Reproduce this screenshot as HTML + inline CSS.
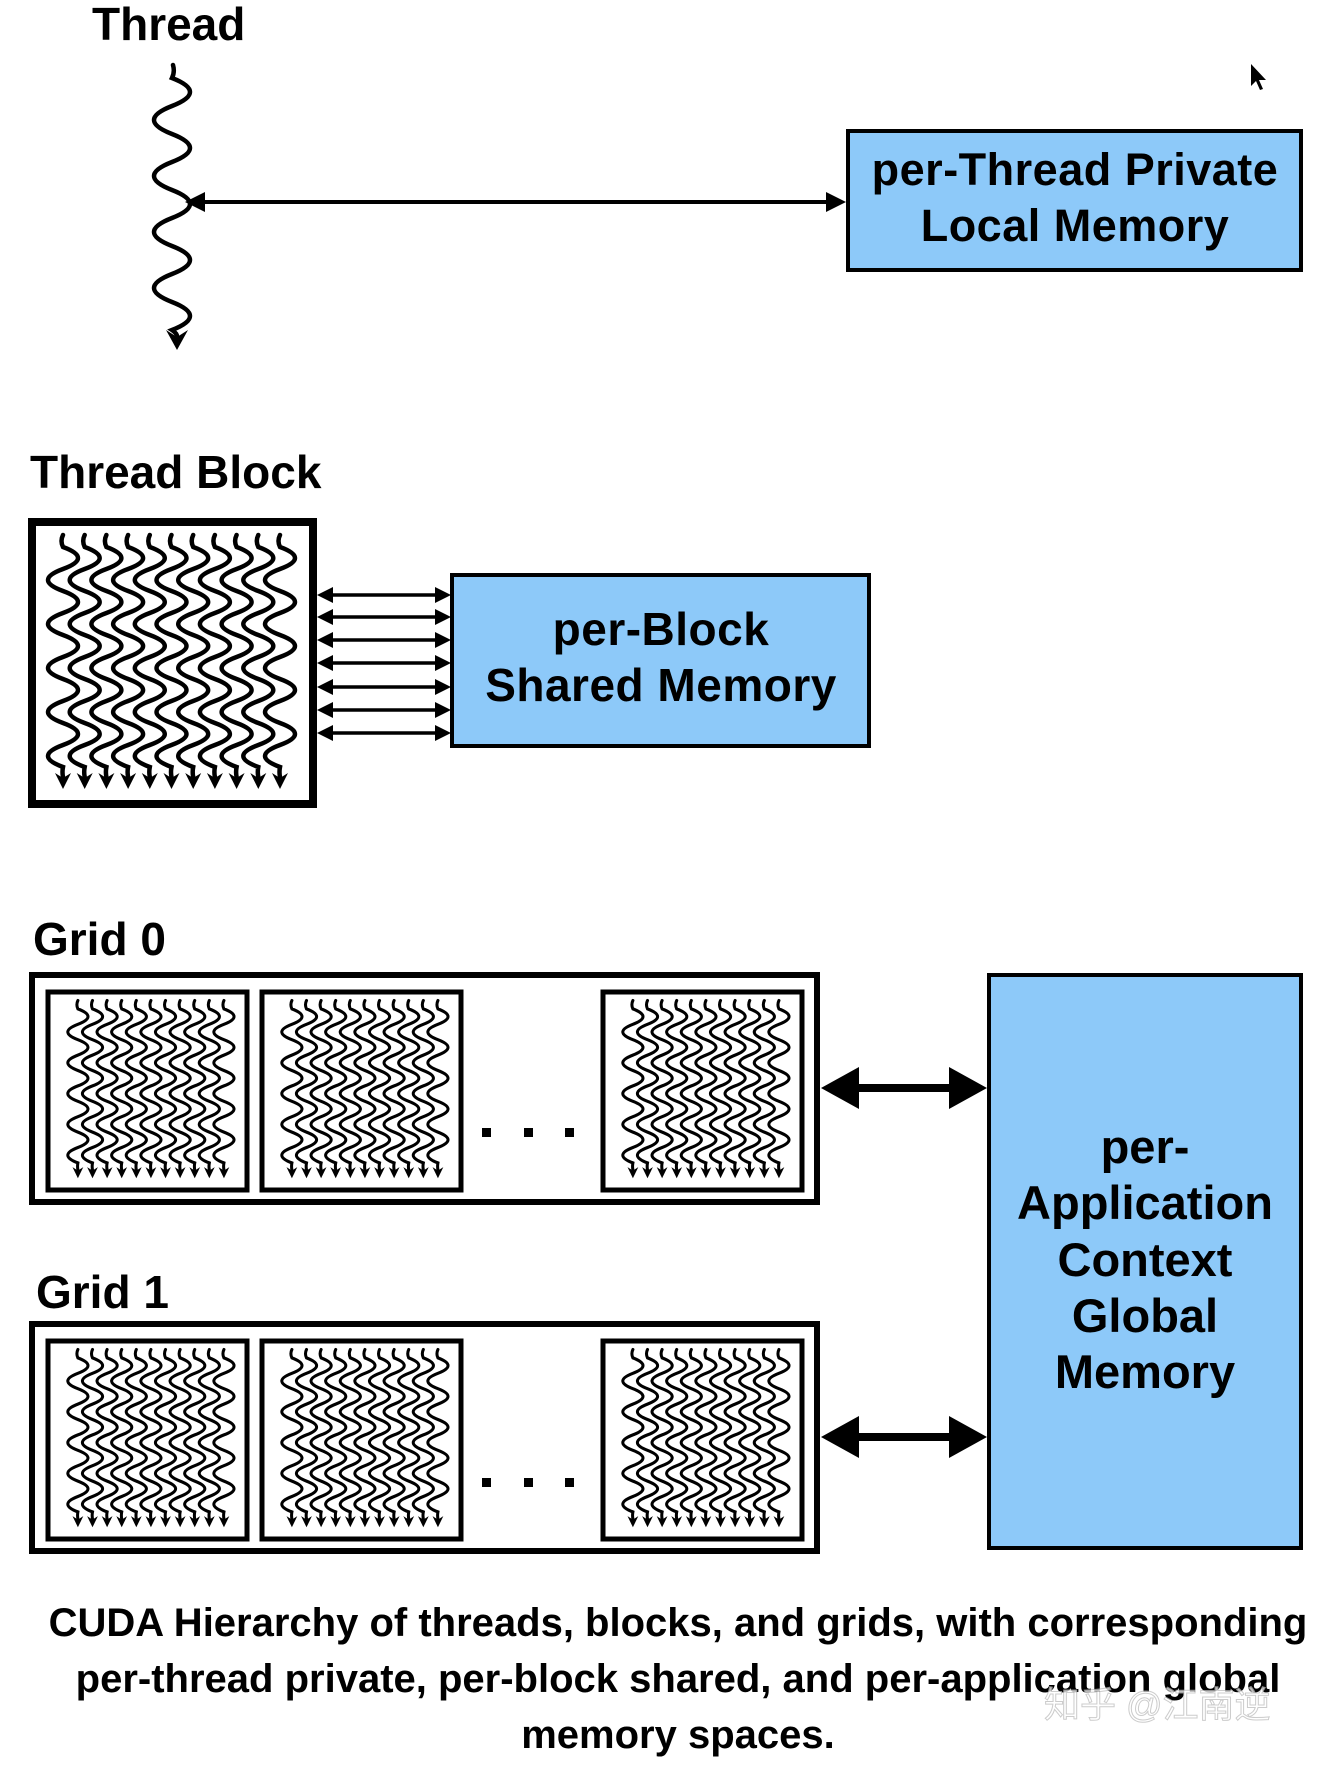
<!DOCTYPE html>
<html><head><meta charset="utf-8"><style>
html,body{margin:0;padding:0;background:#fff;}
svg{display:block;}
text{font-family:"Liberation Sans",sans-serif;font-weight:bold;fill:#000;}
</style></head><body>
<svg width="1336" height="1772" viewBox="0 0 1336 1772" xmlns="http://www.w3.org/2000/svg">
<defs>
  <path id="th" d="M0,0 q-3,6 0,12 q 30,11 0,22 t0,22 t0,22 t0,22 t0,22 t0,22 t0,22 t0,22 t0,22 t0,22 q-1,5 0,10" fill="none" stroke="#000" stroke-width="4.5" stroke-linecap="round"/>
  <path id="ah" d="M0,2 l-8,-16 l8,5 l8,-5 z" fill="#000"/>
  <g id="t1"><use href="#th"/><use href="#ah" transform="translate(0,252)"/></g>
  <g id="tbb">
    <use href="#t1" transform="translate(63,535)"/>
    <use href="#t1" transform="translate(84.7,535)"/>
    <use href="#t1" transform="translate(106.4,535)"/>
    <use href="#t1" transform="translate(128.1,535)"/>
    <use href="#t1" transform="translate(149.8,535)"/>
    <use href="#t1" transform="translate(171.5,535)"/>
    <use href="#t1" transform="translate(193.2,535)"/>
    <use href="#t1" transform="translate(214.9,535)"/>
    <use href="#t1" transform="translate(236.6,535)"/>
    <use href="#t1" transform="translate(258.3,535)"/>
    <use href="#t1" transform="translate(280,535)"/>
  </g>
  <g id="mini">
    <rect x="0" y="0" width="199" height="198" fill="#fff" stroke="#000" stroke-width="5"/>
    <use href="#tbb" transform="translate(-12.5,-366) scale(0.673,0.7)"/>
  </g>
</defs>

<!-- Thread -->
<text x="92" y="40" font-size="46">Thread</text>
<path d="M173,65 Q175,72 172,78 q36,14 0,28 t0,28 t0,28 t0,28 t0,28 t0,28 t0,28 t0,28 t0,28 Q178,334 177,338" fill="none" stroke="#000" stroke-width="4.5" stroke-linecap="round"/>
<path d="M177,350 l-11,-20 l11,7 l11,-7 z" fill="#000"/>
<line x1="200" y1="202" x2="830" y2="202" stroke="#000" stroke-width="4"/>
<path d="M185,202 l20,-10 v20 z" fill="#000"/>
<path d="M846,202 l-20,-10 v20 z" fill="#000"/>
<rect x="848" y="131" width="453" height="139" fill="#8dc9f9" stroke="#000" stroke-width="4"/>
<text x="1075" y="185" font-size="45" text-anchor="middle" letter-spacing="0.5">per-Thread Private</text>
<text x="1075" y="241" font-size="45" text-anchor="middle" letter-spacing="0.5">Local Memory</text>

<!-- cursor -->
<path d="M1251,64 v22 l5,-5 l4,9 l3,-1 l-4,-9 l7,0 z" fill="#000"/>

<!-- Thread Block -->
<text x="30" y="488" font-size="46">Thread Block</text>
<rect x="32" y="522" width="281" height="282" fill="#fff" stroke="#000" stroke-width="8"/>
<use href="#tbb"/>
<g stroke="#000" stroke-width="3.5">
  <line x1="325" y1="595" x2="440" y2="595"/><line x1="325" y1="617" x2="440" y2="617"/>
  <line x1="325" y1="640" x2="440" y2="640"/><line x1="325" y1="663" x2="440" y2="663"/>
  <line x1="325" y1="687" x2="440" y2="687"/><line x1="325" y1="710" x2="440" y2="710"/>
  <line x1="325" y1="733" x2="440" y2="733"/>
</g>
<g fill="#000">
  <path d="M317,595 l16,-8 v16 z"/><path d="M451,595 l-16,-8 v16 z"/>
  <path d="M317,617 l16,-8 v16 z"/><path d="M451,617 l-16,-8 v16 z"/>
  <path d="M317,640 l16,-8 v16 z"/><path d="M451,640 l-16,-8 v16 z"/>
  <path d="M317,663 l16,-8 v16 z"/><path d="M451,663 l-16,-8 v16 z"/>
  <path d="M317,687 l16,-8 v16 z"/><path d="M451,687 l-16,-8 v16 z"/>
  <path d="M317,710 l16,-8 v16 z"/><path d="M451,710 l-16,-8 v16 z"/>
  <path d="M317,733 l16,-8 v16 z"/><path d="M451,733 l-16,-8 v16 z"/>
</g>
<rect x="452" y="575" width="417" height="171" fill="#8dc9f9" stroke="#000" stroke-width="4"/>
<text x="661" y="645" font-size="46" text-anchor="middle" letter-spacing="0.5">per-Block</text>
<text x="661" y="701" font-size="46" text-anchor="middle" letter-spacing="0.5">Shared Memory</text>

<!-- Grid 0 -->
<text x="33" y="955" font-size="46">Grid 0</text>
<rect x="32" y="975" width="785" height="227" fill="#fff" stroke="#000" stroke-width="6"/>
<use href="#mini" transform="translate(48,992)"/>
<use href="#mini" transform="translate(262,992)"/>
<use href="#mini" transform="translate(603,992)"/>
<rect x="482" y="1128" width="9" height="9"/><rect x="524" y="1128" width="9" height="9"/><rect x="565" y="1128" width="9" height="9"/>

<!-- Grid 1 -->
<text x="36" y="1308" font-size="46">Grid 1</text>
<rect x="32" y="1324" width="785" height="227" fill="#fff" stroke="#000" stroke-width="6"/>
<use href="#mini" transform="translate(48,1341)"/>
<use href="#mini" transform="translate(262,1341)"/>
<use href="#mini" transform="translate(603,1341)"/>
<rect x="482" y="1478" width="9" height="9"/><rect x="524" y="1478" width="9" height="9"/><rect x="565" y="1478" width="9" height="9"/>

<!-- global -->
<rect x="989" y="975" width="312" height="573" fill="#8dc9f9" stroke="#000" stroke-width="4"/>
<g font-size="47">
<text x="1145" y="1163" text-anchor="middle">per-</text>
<text x="1145" y="1219" text-anchor="middle">Application</text>
<text x="1145" y="1276" text-anchor="middle">Context</text>
<text x="1145" y="1332" text-anchor="middle">Global</text>
<text x="1145" y="1388" text-anchor="middle">Memory</text>
</g>
<g stroke="#000" stroke-width="8"><line x1="850" y1="1088" x2="960" y2="1088"/><line x1="850" y1="1437" x2="960" y2="1437"/></g>
<g fill="#000">
  <path d="M821,1088 l38,-21 v42 z"/><path d="M987,1088 l-38,-21 v42 z"/>
  <path d="M821,1437 l38,-21 v42 z"/><path d="M987,1437 l-38,-21 v42 z"/>
</g>

<!-- caption -->
<g font-size="40">
<text x="678" y="1636" text-anchor="middle">CUDA Hierarchy of threads, blocks, and grids, with corresponding</text>
<text x="678" y="1692" text-anchor="middle">per-thread private, per-block shared, and per-application global</text>
<text x="678" y="1748" text-anchor="middle">memory spaces.</text>
</g>
<text x="1044" y="1717" font-size="36" style="font-family:'Liberation Sans','Noto Sans CJK SC',sans-serif;font-weight:normal;fill:#fff;opacity:0.75;stroke:#bbb;stroke-width:1">知乎 @江南逆</text>
</svg>
</body></html>
